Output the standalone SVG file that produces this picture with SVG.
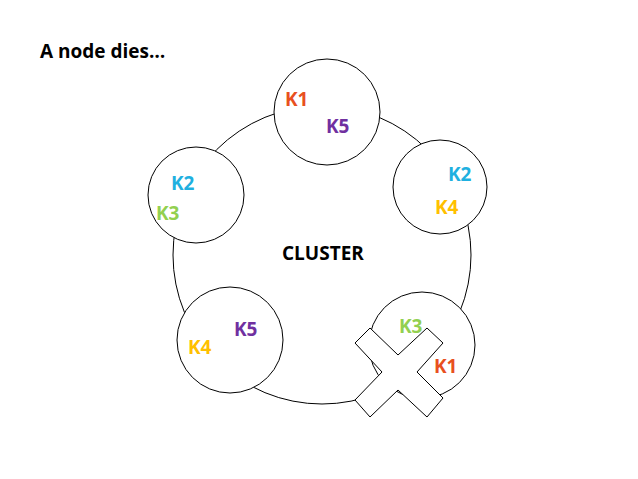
<svg xmlns="http://www.w3.org/2000/svg" width="638" height="479" viewBox="0 0 638 479">
<style>
.c{fill:#fff;stroke:#000;stroke-width:1}
text{font-family:"Open Sans","Liberation Sans",sans-serif;font-weight:bold;font-size:19px}
.r{fill:#e8501e}.p{fill:#7030a0}.b{fill:#1fb0e0}.g{fill:#92d050}.y{fill:#ffc000}
</style>
<rect width="638" height="479" fill="#fff"/>
<text x="40" y="58" font-size="26" fill="#000">A node dies…</text>
<g id="cluster"><circle class="c" cx="322" cy="255" r="149"/><text x="282" y="260" fill="#000" font-size="17.5">CLUSTER</text></g>
<g id="n1"><circle class="c" cx="327" cy="112" r="53"/><text class="r" x="285" y="106">K1</text><text class="p" x="326" y="133">K5</text></g>
<g id="n2"><circle class="c" cx="440" cy="187" r="47"/><text class="b" x="448" y="181">K2</text><text class="y" x="435" y="214">K4</text></g>
<g id="n3"><circle class="c" cx="196" cy="195" r="48"/><text class="b" x="171" y="190">K2</text><text class="g" x="156" y="220">K3</text></g>
<g id="n4"><circle class="c" cx="230" cy="340" r="53"/><text class="p" x="234" y="336">K5</text><text class="y" x="188" y="354">K4</text></g>
<g id="n5"><circle class="c" cx="422" cy="345" r="53"/><text class="g" x="399" y="333">K3</text><text class="r" x="434" y="373">K1</text></g>
<g id="x"><polygon class="c" points="355,343 370,328 398,355 427,328 443,343 417,372 443,398 427,417 398,390 370,417 355,400 382,372"/></g>
</svg>
